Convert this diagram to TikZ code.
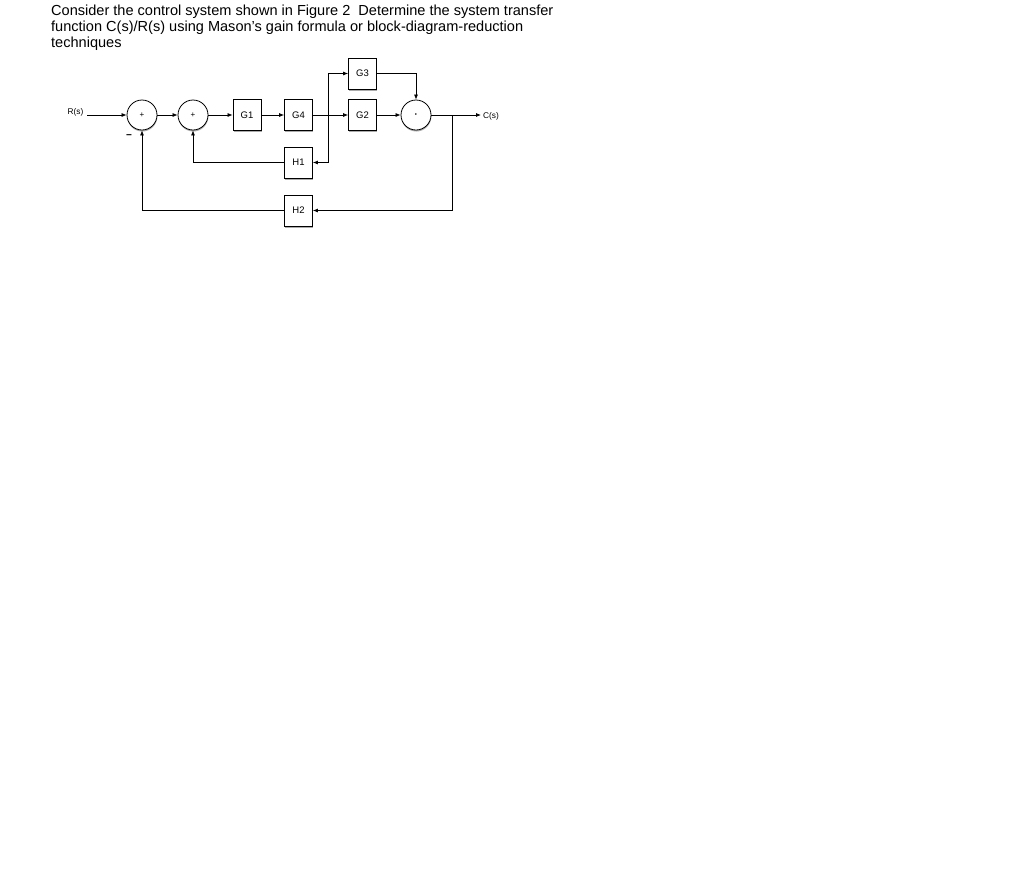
\documentclass[tikz,border=0pt]{standalone}
\usepackage{fontspec}
\setmainfont{Liberation Sans}
\usetikzlibrary{arrows.meta,shadows}
\begin{document}
\begin{tikzpicture}[x=1pt,y=-1pt,
  blk/.style={draw,line width=0.8pt,minimum width=28pt,minimum height=31pt,inner sep=0pt,
    fill=white,font=\fontsize{9.5}{10}\selectfont,
    drop shadow={shadow xshift=0.6pt,shadow yshift=-1.5pt,fill=black!65}},
  sumj/.style={draw,circle,minimum size=30pt,inner sep=0pt,line width=0.8pt,fill=white,
    font=\fontsize{8}{9}\selectfont,
    drop shadow={shadow xshift=0.3pt,shadow yshift=-1.5pt,fill=black!65}},
  sig/.style={-{Latex[length=5pt,width=4pt]},line width=0.75pt},
  lab/.style={font=\fontsize{8.3}{9}\selectfont,inner sep=2pt},
  ttl/.style={font=\fontsize{14.55}{16}\selectfont,anchor=base west,inner sep=0pt}]
\useasboundingbox[fill=white] (0,0) rectangle (1024,879);

% title
\node[ttl] (t1) at (51,15) {Consider the control system shown in Figure 2\ \ Determine the system transfer};
\node[ttl] (t2) at (51,31) {function C(s)/R(s) using Mason’s gain formula or block-diagram-reduction};
\node[ttl] (t3) at (51,47) {techniques};

% blocks
\node[sumj] (S1) at (142,115) {+};
\node[sumj] (S2) at (193,115) {+};
\node[blk] (G1) at (247,115) {G1};
\node[blk] (G4) at (298.5,115) {G4};
\node[blk] (G2) at (362.5,115) {G2};
\node[blk] (G3) at (362.5,73.5) {G3};
\node[blk] (H1) at (298.5,162.5) {H1};
\node[blk] (H2) at (298.5,210.5) {H2};
\node[sumj] (S3) at (416,115) {\fontsize{6}{6}\selectfont •};

\node[lab,anchor=east,inner xsep=3.5pt] (R) at (87,112) {R(s)};
\node[lab,anchor=west] (C) at (481,116) {C(s)};
\node[font=\fontsize{10}{10}\selectfont\bfseries,inner sep=0pt] (minus) at (129,137) {−};

\coordinate (b1) at (328,115);
\coordinate (b2) at (452,115);

% forward path
\draw[sig] (R.east |- S1.west) -- (S1.west);
\draw[sig] (S1.east) -- (S2.west);
\draw[sig] (S2.east) -- (G1.west);
\draw[sig] (G1.east) -- (G4.west);
\draw[sig] (G4.east) -- (G2.west);
\draw[sig] (b1) |- (G3.west);
\draw[sig] (G3.east) -| (S3.north);
\draw[sig] (G2.east) -- (S3.west);
\draw[sig] (S3.east) -- (C.west |- S3.east);

% feedback
\draw[sig] (b1) |- (H1.east);
\draw[sig] (H1.west) -| (S2.south);
\draw[sig] (b2) |- (H2.east);
\draw[sig] (H2.west) -| (S1.south);
\end{tikzpicture}
\end{document}
